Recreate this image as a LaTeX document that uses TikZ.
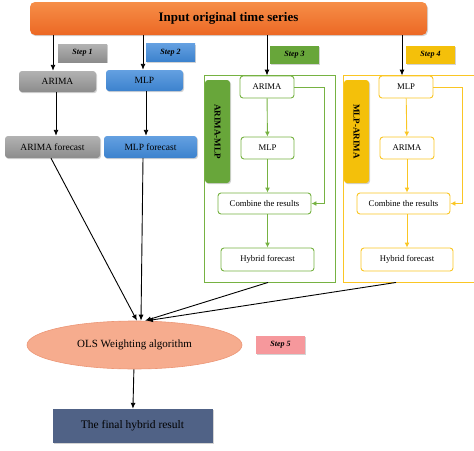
\documentclass[tikz,border=0pt]{standalone}
\usepackage{fontspec}
\setmainfont{Liberation Serif}
\usetikzlibrary{arrows.meta}
\usetikzlibrary{shadows}
\usetikzlibrary{shapes.geometric}

\definecolor{orangetop}{RGB}{246,142,72}
\definecolor{orangebot}{RGB}{236,104,36}
\definecolor{graytop}{RGB}{178,178,178}
\definecolor{graybot}{RGB}{140,140,140}
\definecolor{bluetop}{RGB}{100,160,225}
\definecolor{bluebot}{RGB}{60,130,205}
\definecolor{grn}{RGB}{118,178,66}
\definecolor{grntab}{RGB}{104,166,58}
\definecolor{ylw}{RGB}{250,198,36}
\definecolor{ylwtab}{RGB}{244,192,10}
\definecolor{salmon}{RGB}{246,172,142}
\definecolor{salmonedge}{RGB}{236,150,118}
\definecolor{pinkstep}{RGB}{246,152,156}
\definecolor{slate}{RGB}{80,98,134}

\begin{document}
\begin{tikzpicture}[x=1pt, y=-1pt,
    shadow/.style={drop shadow={shadow xshift=1pt, shadow yshift=-1.2pt, opacity=0.35}},
    box/.style={rounded corners=3pt, inner sep=0pt, minimum height=21pt, font=\fontsize{9.5}{11}\selectfont, shadow},
    stepbox/.style={inner sep=0pt, minimum width=49pt, minimum height=18pt, font=\fontsize{8}{9}\selectfont\bfseries\itshape, shadow},
    inbox/.style={rounded corners=3pt, fill=white, line width=0.9pt, inner sep=0pt, minimum height=22pt, font=\fontsize{8.7}{10}\selectfont},
    tab/.style={rounded corners=3pt, rotate=-90, inner sep=0pt, minimum width=103pt, minimum height=25pt, font=\fontsize{9}{10}\selectfont\bfseries, shadow},
    arr/.style={-{Latex[length=6pt,width=5pt]}, line width=0.9pt},
    garr/.style={-{Latex[length=5pt,width=5pt]}, draw=grn, line width=0.9pt},
    yarr/.style={-{Latex[length=5pt,width=5pt]}, draw=ylw, line width=0.9pt}]
  \useasboundingbox (0,0) rectangle (474,450);

  % input and the two single models
  \node (top) [rounded corners=5pt, top color=orangetop, bottom color=orangebot, minimum width=397pt, minimum height=33pt, font=\fontsize{13}{15}\selectfont\bfseries, shadow] at (228.5,18.5) {Input original time series};
  \node (step1) [stepbox, top color=graytop, bottom color=graybot] at (82.5,53) {Step 1};
  \node (step2) [stepbox, top color=bluetop, bottom color=bluebot] at (170.5,52.5) {Step 2};
  \node (step3) [stepbox, fill=grntab] at (294.5,55) {Step 3};
  \node (step4) [stepbox, fill=ylwtab] at (430.5,55) {Step 4};
  \node (arima) [box, top color=graytop, bottom color=graybot, minimum width=77pt] at (57.5,81.5) {ARIMA};
  \node (mlp) [box, top color=bluetop, bottom color=bluebot, minimum width=77pt] at (144.5,80.5) {MLP};
  \node (arimaf) [box, top color=graytop, bottom color=graybot, minimum width=95pt, minimum height=22pt] at (52.5,147) {ARIMA forecast};
  \node (mlpf) [box, top color=bluetop, bottom color=bluebot, minimum width=93pt, minimum height=22pt] at (150.5,147) {MLP forecast};

  % ARIMA-MLP hybrid
  \node (gbox) [draw=grn, line width=0.9pt, minimum width=131pt, minimum height=207pt] at (269.5,178.5) {};
  \node (gtab) [tab, fill=grntab] at (217.5,131.5) {ARIMA-MLP};
  \node (garima) [inbox, draw=grn, minimum width=54pt] at (267,87) {ARIMA};
  \node (gmlp) [inbox, draw=grn, minimum width=53pt] at (267.5,148) {MLP};
  \node (gcomb) [inbox, draw=grn, minimum width=93pt, minimum height=21pt] at (264.5,203.5) {Combine the results};
  \node (ghyb) [inbox, draw=grn, minimum width=93pt, minimum height=23pt] at (267.5,259.5) {Hybrid forecast};

  % MLP-ARIMA hybrid
  \node (ybox) [draw=ylw, line width=0.9pt, minimum width=135pt, minimum height=207pt] at (410.5,178.5) {};
  \node (ytab) [tab, fill=ylwtab] at (356.5,131.5) {MLP-ARIMA};
  \node (ymlp) [inbox, draw=ylw, minimum width=54pt] at (406,87) {MLP};
  \node (yarima) [inbox, draw=ylw, minimum width=54pt] at (407,148) {ARIMA};
  \node (ycomb) [inbox, draw=ylw, minimum width=93pt, minimum height=21pt] at (403.5,203.5) {Combine the results};
  \node (yhyb) [inbox, draw=ylw, minimum width=92pt, minimum height=23pt] at (407,259.5) {Hybrid forecast};

  % weighting and result
  \node (ols) [ellipse, fill=salmon, draw=salmonedge, line width=0.6pt, inner sep=0pt, minimum width=215pt, minimum height=48pt, font=\fontsize{11}{13}\selectfont] at (134.5,345) {OLS Weighting algorithm};
  \node (step5) [stepbox, fill=pinkstep] at (280.5,345) {Step 5};
  \node (final) [fill=slate, inner sep=0pt, minimum width=160pt, minimum height=34pt, font=\fontsize{11.5}{13}\selectfont, shadow] at (132.5,426) {The final hybrid result};

  \draw [arr] ([xshift=-4.5pt]arima.north |- top.south) -- ([xshift=-4.5pt]arima.north);
  \draw [arr] ([xshift=-1.5pt]mlp.north |- top.south) -- ([xshift=-1.5pt]mlp.north);
  \draw [arr] (garima.north |- top.south) -- (garima.north);
  \draw [arr] ([xshift=-4pt]ymlp.north |- top.south) -- ([xshift=-4pt]ymlp.north);
  \draw [arr] ([xshift=-1.5pt]arima.south) -- ([xshift=-1.5pt]arima.south |- arimaf.north);
  \draw [arr] ([xshift=1.5pt]mlp.south) -- ([xshift=1.5pt]mlp.south |- mlpf.north);

  \draw [garr] (garima) -- (gmlp);
  \draw [garr] (gmlp.south) -- (gmlp.south |- gcomb.north);
  \draw [garr] (ghyb.north |- gcomb.south) -- (ghyb.north);
  \draw [garr] (garima.east) -- ++(30,0) |- (gcomb.east);
  \draw [yarr] (ymlp) -- (yarima);
  \draw [yarr] (yarima.south) -- (yarima.south |- ycomb.north);
  \draw [yarr] (ycomb.south -| yhyb.north) -- (yhyb.north);
  \draw [yarr] (ymlp.east) -- ++(29,0) |- (ycomb.east);

  \draw [arr] ([xshift=-1.5pt]arimaf.south) -- ([xshift=2.5pt]ols.north);
  \draw [arr] ([xshift=-7.5pt]mlpf.south) -- ([xshift=6.5pt]ols.north);
  \draw [arr] ([xshift=-1.5pt]gbox.south) -- ([xshift=10.5pt]ols.north);
  \draw [arr] ([xshift=-14.5pt]ybox.south) -- ([xshift=12.5pt]ols.north);
  \draw [arr] (ols) -- (final);
\end{tikzpicture}
\end{document}
